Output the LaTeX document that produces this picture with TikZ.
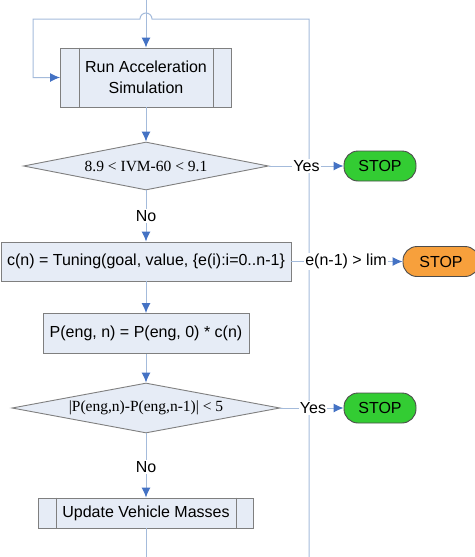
\documentclass[tikz,border=0pt]{standalone}
\usepackage{fontspec}
\setmainfont{Liberation Sans}
\newfontfamily\serifface{Liberation Serif}
\usetikzlibrary{shapes.geometric,arrows.meta}
\definecolor{boxfill}{HTML}{E6ECF6}
\definecolor{boxline}{HTML}{7F7F7F}
\definecolor{flowline}{HTML}{A4BBDB}
\definecolor{tipblue}{HTML}{4472C4}
\definecolor{stopgreen}{HTML}{33CC33}
\definecolor{stoporange}{HTML}{F7A03C}

\begin{document}
\begin{tikzpicture}[x=1pt, y=-1pt,
    every node/.style={font=\fontsize{16}{21}\selectfont},
    procbox/.style={rectangle, draw=boxline, fill=boxfill, line width=0.9pt, inner sep=0pt, align=center},
    decision/.style={diamond, aspect=5, draw=boxline, fill=boxfill, line width=0.9pt, inner sep=0pt,
        font=\serifface\fontsize{15.5}{18}\selectfont},
    stopbox/.style={rectangle, rounded corners=14pt, draw=black!70, line width=0.9pt,
        minimum width=72pt, minimum height=30pt, inner sep=0pt},
    lbl/.style={fill=white, inner sep=1pt},
    flow/.style={draw=flowline, line width=1pt},
    arrow/.style={flow, -{Latex[length=10pt, width=9pt, color=tipblue]}}]

    \useasboundingbox (0,0) rectangle (474,557);

    % Main column
    \node[procbox, minimum width=171pt, minimum height=59pt] (sim) at (146,77.5) {Run Acceleration\\Simulation};
    \node[decision, minimum width=245pt, minimum height=48pt] (ivm) at (146,166) {8.9 < IVM-60 < 9.1};
    \node[procbox, minimum width=290pt, minimum height=39pt] (tune) at (146,261.5) {c(n) = Tuning(goal, value, \{e(i):i=0..n-1\}};
    \node[procbox, minimum width=206pt, minimum height=40pt] (power) at (146,333.5) {P(eng, n) = P(eng, 0) * c(n)};
    \node[decision, minimum width=268pt, minimum height=50pt] (conv) at (146,408) {|P(eng,n)-P(eng,n-1)| < 5};
    \node[procbox, minimum width=215pt, minimum height=30pt] (mass) at (146,513) {Update Vehicle Masses};

    % Side bars of the predefined processes
    \foreach \n/\d in {sim/19pt, mass/18pt} {
        \draw[boxline, line width=0.9pt] ([xshift=\d]\n.north west) -- ([xshift=\d]\n.south west);
        \draw[boxline, line width=0.9pt] ([xshift=-\d]\n.north east) -- ([xshift=-\d]\n.south east);
    }

    % Stop terminals
    \node[stopbox, fill=stopgreen] (stop1) at (380,166) {STOP};
    \node[stopbox, fill=stoporange, minimum width=76pt] (stop3) at (441,261.5) {STOP};
    \node[stopbox, fill=stopgreen] (stop2) at (380,408) {STOP};

    % Loop back
    \coordinate (in) at (146,0);
    \coordinate (out) at (146,557);
    \coordinate (rbot) at (309,557);
    \coordinate (rtop) at (309,19);
    \coordinate (hop) at (152,19);
    \coordinate (ltop) at (33,19);
    \coordinate (lmid) at (33,77.5);
    \draw[arrow] (rbot) -- (rtop) -- (hop) arc[start angle=0, end angle=180, radius=6pt]
        -- (ltop) -- (lmid) -- (sim);

    % Labels
    \node[lbl] (yes1) at (306.5,166) {Yes};
    \node[lbl] (no1) at (146,216) {No};
    \node[lbl] (lim) at (346,261.5) {e(n-1) > lim};
    \node[lbl] (yes2) at (313,408) {Yes};
    \node[lbl] (no2) at (146,467) {No};

    % Connectors
    \draw[arrow] (in) -- (sim);
    \draw[arrow] (sim) -- (ivm);
    \draw[flow] (ivm) -- (yes1);
    \draw[arrow] (yes1) -- (stop1);
    \draw[flow] (ivm) -- (no1);
    \draw[arrow] (no1) -- (tune);
    \draw[flow] (tune) -- (lim);
    \draw[arrow] (lim) -- (stop3);
    \draw[arrow] (tune) -- (power);
    \draw[arrow] (power) -- (conv);
    \draw[flow] (conv) -- (yes2);
    \draw[arrow] (yes2) -- (stop2);
    \draw[flow] (conv) -- (no2);
    \draw[arrow] (no2) -- (mass);
    \draw[flow] (mass) -- (out);
\end{tikzpicture}
\end{document}
